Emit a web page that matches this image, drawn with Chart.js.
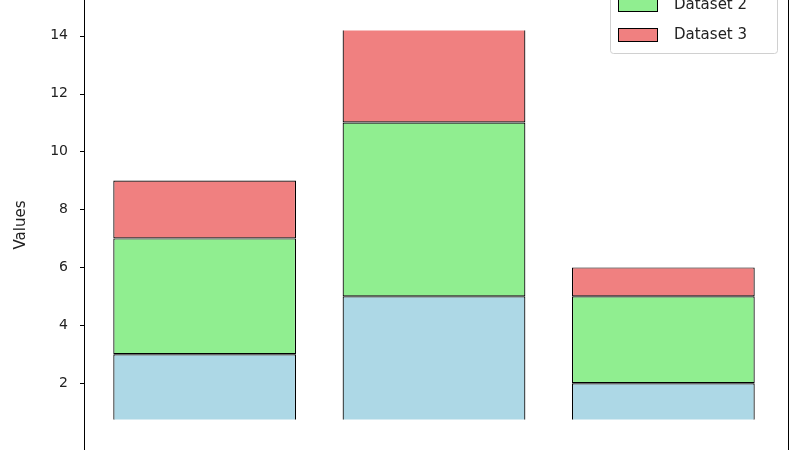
<!DOCTYPE html>
<html>
<head>
<meta charset="UTF-8">
<script src="https://cdn.jsdelivr.net/npm/chart.js"></script>
<style>
  body { margin: 0; background: #fff; }
  #wrap { width: 800px; height: 450px; }
</style>
</head>
<body>
<div id="wrap"><canvas id="chart"></canvas></div>
<script>
const categories = ['A', 'B', 'C'];
const dataset1 = [3, 5, 2];
const dataset2 = [4, 6, 3];
const dataset3 = [2, 4, 1];
const seriesLabels = ['Dataset 1', 'Dataset 2', 'Dataset 3'];
const seriesColors = ['#add8e6', '#90ee90', '#f08080'];
const yTicks = [2, 4, 6, 8, 10, 12, 14];

const AXIS_X = 84, RIGHT_X = 788;

// frame, tick marks + matplotlib-style legend (partly cropped at top)
const framePlugin = {
  id: 'frame',
  afterDraw(chart) {
    const { ctx, chartArea: a, scales: { y } } = chart;
    ctx.save();
    ctx.strokeStyle = '#000';
    ctx.lineWidth = 1;
    ctx.beginPath();
    ctx.moveTo(AXIS_X + 0.5, 0);
    ctx.lineTo(AXIS_X + 0.5, 450);
    ctx.moveTo(RIGHT_X + 0.5, 0);
    ctx.lineTo(RIGHT_X + 0.5, 450);
    yTicks.forEach(v => {
      const py = Math.round(y.getPixelForValue(v)) + 0.5;
      ctx.moveTo(AXIS_X - 4, py);
      ctx.lineTo(AXIS_X, py);
    });
    ctx.stroke();

    const bx = 610, by = -50, bw = 167, bh = 103;
    ctx.fillStyle = 'rgba(255,255,255,0.8)';
    ctx.strokeStyle = '#d0d0d0';
    ctx.beginPath();
    ctx.roundRect(bx + 0.5, by + 0.5, bw, bh, 3);
    ctx.fill();
    ctx.stroke();
    ctx.font = '15px "DejaVu Sans"';
    ctx.textBaseline = 'middle';
    seriesLabels.forEach((lab, i) => {
      const cy = 35 - (2 - i) * 30;
      ctx.fillStyle = seriesColors[i];
      ctx.strokeStyle = '#000';
      ctx.fillRect(618, cy - 7, 40, 14);
      ctx.strokeRect(618.5, cy - 6.5, 39, 13);
      ctx.fillStyle = '#222';
      ctx.fillText(lab, 674, cy);
    });
    ctx.restore();
  }
};

const mk = (label, data, i) => ({
  label, data,
  backgroundColor: seriesColors[i],
  borderColor: '#000',
  borderWidth: 1.2,
  borderSkipped: false,
  categoryPercentage: 0.797,
  barPercentage: 1.0
});

new Chart(document.getElementById('chart'), {
  type: 'bar',
  data: {
    labels: categories,
    datasets: [mk(seriesLabels[0], dataset1, 0), mk(seriesLabels[1], dataset2, 1), mk(seriesLabels[2], dataset3, 2)]
  },
  options: {
    responsive: true,
    maintainAspectRatio: false,
    animation: false,
    layout: { padding: { top: -12, right: 22, bottom: -12, left: 10 } },
    plugins: { legend: { display: false }, tooltip: { enabled: false } },
    scales: {
      x: { stacked: true, display: false, offset: true },
      y: {
        stacked: true,
        min: 0.746,
        max: 14.18,
        afterFit(s) { s.width = 80; },
        afterBuildTicks(s) { s.ticks = yTicks.map(v => ({ value: v })); },
        grid: { display: false, drawTicks: false },
        border: { display: false },
        ticks: { color: '#222', font: { family: 'DejaVu Sans', size: 14 }, padding: 22 },
        title: { display: true, text: 'Values', color: '#222', font: { family: 'DejaVu Sans', size: 15 }, padding: 2 }
      }
    }
  },
  plugins: [framePlugin]
});
</script>
</body>
</html>
